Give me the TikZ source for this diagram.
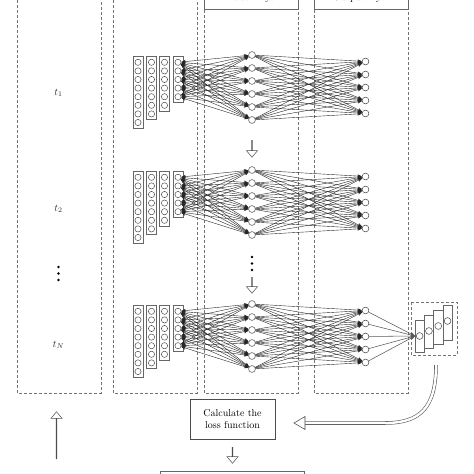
\documentclass[tikz,border=0pt]{standalone}
\usepackage{amssymb,amsmath}
\usepackage{tikz}
\usetikzlibrary{arrows.meta,shapes.arrows}

\tikzset{
  >={Stealth[length=4.4pt,width=3.4pt]},
  neuron/.style={circle, draw=black!75, fill=white, line width=0.5pt, inner sep=0pt, minimum size=6.8pt},
  unit/.style={circle, draw=black!70, fill=white, line width=0.5pt, inner sep=0pt, minimum size=6.2pt},
  stack/.style={draw=black!60, fill=white, line width=0.6pt},
  column/.style={draw=black!55, dash pattern=on 3pt off 2pt, line width=0.6pt},
  headbox/.style={draw=black!60, line width=0.6pt},
  link/.style={black!85, line width=0.4pt},
  fat/.style={single arrow, draw=black!70, fill=white, line width=0.5pt, inner sep=0pt,
    minimum width=11pt, single arrow head extend=3pt, single arrow tip angle=80}
}

\begin{document}
\begin{tikzpicture}[x=1pt,y=-1pt]

\useasboundingbox (0,0) rectangle (474,474);
\clip (0,0) rectangle (474,474);

% dashed columns
\foreach \xa/\xb in {17/101,113/197,204/298,314/408}
\draw[column] (\xa,-20) rectangle (\xb,393);

% headers, cut at the top
\draw[headbox] (204,-30) rectangle (298,9);
\draw[headbox] (314,-30) rectangle (408,9);
\node[anchor=base, inner sep=0pt] (head3) at (251,0.5) {Hidden layer};
\node[anchor=base, inner sep=0pt] (head4) at (361,0.5) {Output layer};

% time steps
\node[black!85] (t1) at (58.5,93) {$t_1$};
\node[black!85] (t2) at (58.5,209) {$t_2$};
\node[black!85] (tN) at (58.5,345) {$t_N$};
\foreach \y in {267,273.5,280}
\fill (58.5,\y) circle (1.4);

% one network for each time step
\foreach \b [count=\i] in {55,170,304} {
  \foreach \xs/\n [count=\j] in {138/8,151.5/7,164.5/6,178/5} {
    \draw[stack] (\xs-4.8,\b+1.5) rectangle (\xs+4.8,\b+4.5+8.6*\n);
    \foreach \k in {1,...,\n}
    \node[unit] (in\i-\j-\k) at (\xs,\b-1.3+8.6*\k) {};
  }
  \foreach \k in {0,...,5}
  \node[neuron] (h\i-\k) at (252,\b+13*\k) {};
  \foreach \k in {0,...,4}
  \node[neuron] (o\i-\k) at (365.5,\b+6.5+13*\k) {};

  \foreach \a in {1,...,5}
  \foreach \c in {0,...,5}
  \draw[link, <->] (in\i-4-\a) -- (h\i-\c);
  \foreach \c in {0,...,5}
  \foreach \d in {0,...,4}
  \draw[link, ->] (h\i-\c) -- (o\i-\d);
}

% between the steps
\node[fat, shape border rotate=270, minimum height=17pt] (down1) at (252,148.5) {};
\foreach \y in {257,263.5,270}
\fill (252,\y) circle (1.4);
\node[fat, shape border rotate=270, minimum height=16pt] (down2) at (252,285) {};

% last output
\draw[column] (411,302) rectangle (457,355);
\foreach \s in {0,...,3} {
  \draw[stack] (415+9.3*\s,320-5*\s) rectangle ++(9.3,32+\s);
  \node[neuron] (d\s) at (419.65+9.3*\s,336-5*\s) {};
}
\coordinate (sink) at (415,336);
\foreach \d in {0,...,4}
\draw[black!65, line width=0.55pt, ->] (o3-\d) -- (sink);

% loss
\node[draw=black!70, line width=0.6pt, minimum width=85pt, minimum height=40pt,
  align=center, inner sep=1pt] (loss) at (232.5,419) {Calculate the\\loss function};
\coordinate (back) at (436,365);
\coordinate (tip) at (294,423);
\draw[black!70, line width=0.55pt, double=white, double distance=2.4pt]
  (back) .. controls (436,408) and (420,423) .. (385,423) -- (305,423);
\draw[black!70, line width=0.55pt, fill=white] (tip) -- (305,416.5) -- (305,429.5) -- cycle;

\node[fat, shape border rotate=270, minimum height=16pt] (down3) at (232.5,455) {};
\draw[headbox] (160,471) rectangle (304,490);

\node[fat, shape border rotate=90, minimum height=47pt] (up) at (56.5,435.5) {};

\end{tikzpicture}
\end{document}
